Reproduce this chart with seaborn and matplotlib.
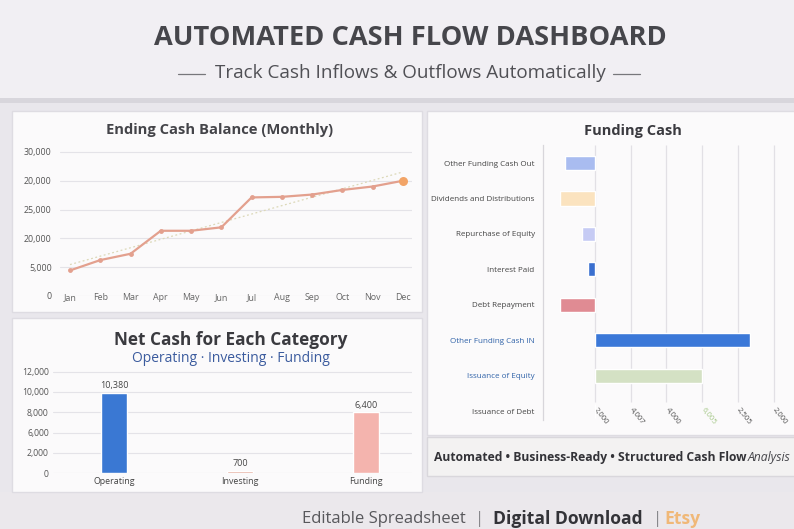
import numpy as np
import pandas as pd
import matplotlib
matplotlib.use('agg')
import matplotlib.pyplot as plt
from matplotlib.patches import Rectangle
from matplotlib.lines import Line2D
import seaborn as sns

# ending cash balance by month
months = ['Jan', 'Feb', 'Mar', 'Apr', 'May', 'Jun', 'Jul', 'Aug', 'Sep', 'Oct', 'Nov', 'Dec']
ending_cash = [4400, 6200, 7300, 11300, 11300, 11900, 17100, 17200, 17600, 18400, 19000, 20000]
balance_ticks = [0, 5000, 10000, 15000, 20000, 25000]
balance_tick_labels = ['0', '5,000', '20,000', '25,000', '20,000', '30,000']

# net cash per category: bar heights as drawn, labels as printed
net_categories = ['Operating', 'Investing', 'Funding']
net_heights = [7900, 270, 6000]
net_labels = ['10,380', '700', '6,400']
net_ticks = [0, 2000, 4000, 6000, 8000, 10000]
net_tick_labels = ['0', '2,000', '6,000', '8,000', '10,000', '12,000']

# funding cash items
funding_items = ['Other Funding Cash Out', 'Dividends and Distributions', 'Repurchase of Equity',
                 'Interest Paid', 'Debt Repayment', 'Other Funding Cash IN', 'Issuance of Equity',
                 'Issuance of Debt']
funding_values = [-840, -980, -370, -190, -980, 4340, 3000, 0]
funding_ticks = [0, 1000, 2000, 3000, 4000, 5000]
funding_tick_labels = ['2,000', '4,007', '4,000', '6,005', '2,505', '2,000']

# colours
net_colors = ['#3a78d3', '#e2a493', '#f4b4ae']
funding_colors = ['#a9bcf0', '#fbe3bf', '#c6cbf4', '#3a6fcf', '#e08b93', '#3b78d8', '#d4e1c4', '#d4e1c4']
funding_label_colors = ['#444'] * 5 + ['#2f62a8', '#2f62a8', '#444']
funding_tick_colors = ['#555', '#555', '#555', '#a6c88a', '#555', '#555']

sns.set_theme(style='white')
plt.rcParams['font.family'] = ['Open Sans', 'DejaVu Sans']

W, H = 794, 529
fig = plt.figure(figsize=(W / 100, H / 100), dpi=100, facecolor='#e9e7ec')


def box(x0, y0, x1, y1):
    # pixel box (top-left origin) -> figure fraction [l, b, w, h]
    return [x0 / W, 1 - y1 / H, (x1 - x0) / W, (y1 - y0) / H]


def rect(x0, y0, x1, y1, fc, ec='none', lw=0):
    l, b, w, h = box(x0, y0, x1, y1)
    fig.add_artist(Rectangle((l, b), w, h, transform=fig.transFigure,
                             facecolor=fc, edgecolor=ec, lw=lw, zorder=-5))


def ftext(x, y, s, **kw):
    fig.text(x / W, 1 - y / H, s, **kw)


# background and panels
rect(0, 0, 794, 98, '#f1eff3')
rect(0, 98, 794, 103, '#d8d6dc')
rect(0, 492, 794, 529, '#ebe8ec')
rect(12, 111, 422, 312, '#fbfafb', '#dedce2', 1)
rect(12, 318, 422, 492, '#fbfafb', '#dedce2', 1)
rect(427, 111, 800, 435, '#fbfafb', '#dedce2', 1)
rect(427, 437, 800, 476, '#f3f2f2', '#d9d7dc', 1)

# header
ftext(410, 38, 'AUTOMATED CASH FLOW DASHBOARD', ha='center', va='center',
      fontsize=19.6, fontweight='bold', color='#46464b')
ftext(410, 73, 'Track Cash Inflows & Outflows Automatically', ha='center', va='center',
      fontsize=13.6, color='#505055')
for x0, x1 in [(178, 205), (613, 640)]:
    fig.add_artist(Line2D([x0 / W, x1 / W], [1 - 73.5 / H] * 2, transform=fig.transFigure,
                          color='#77777b', lw=0.9))

# ending cash balance line chart
ax1 = fig.add_axes(box(60, 146.25, 412, 295.75))
ax1.set_facecolor('none')
ax1.set_xlim(-0.33, 11.3)
x = np.arange(len(months))
sns.regplot(x=x, y=ending_cash, scatter=False, ci=None, ax=ax1,
            line_kws=dict(color='#dcd8b8', lw=0.9, ls=(0, (1.5, 2))))
sns.lineplot(x=x, y=ending_cash, ax=ax1, color='#e3a08e', lw=1.6, marker='o',
             markersize=3.5, markeredgewidth=0)
ax1.scatter(x[-1], ending_cash[-1], s=42, color='#f2a467', zorder=5, linewidths=0)
ax1.set_xlim(-0.33, 11.3)
ax1.set_ylim(0, 26000)
ax1.set_xticks(x)
ax1.set_xticklabels(months)
ax1.set_yticks(balance_ticks)
ax1.set_yticklabels(balance_tick_labels)
ax1.yaxis.grid(True, color='#e4e3e8', lw=0.8)
ax1.xaxis.grid(False)
sns.despine(ax=ax1, left=True, bottom=True)
ax1.tick_params(axis='y', labelsize=6.4, labelcolor='#555', pad=6, length=0)
ax1.tick_params(axis='x', labelsize=6.4, labelcolor='#666', pad=-2, length=0)
ftext(220, 130, 'Ending Cash Balance (Monthly)', ha='center', va='center',
      fontsize=10.6, fontweight='bold', color='#444449')

# net cash bar chart
ax2 = fig.add_axes(box(53, 368.6, 412, 473.3))
ax2.set_facecolor('none')
df_net = pd.DataFrame({'category': net_categories, 'net': net_heights})
sns.barplot(data=df_net, x='category', y='net', hue='category', palette=net_colors,
            width=0.2, saturation=1, legend=False, ax=ax2)
for i, (h, lab) in enumerate(zip(net_heights, net_labels)):
    ax2.annotate(lab, (i, h), xytext=(0, 2), textcoords='offset points',
                 ha='center', va='bottom', fontsize=6.5, color='#444')
ax2.set_xlim(-0.484, 2.365)
ax2.set_ylim(0, 10300)
ax2.set_yticks(net_ticks)
ax2.set_yticklabels(net_tick_labels)
ax2.set_xlabel('')
ax2.set_ylabel('')
ax2.yaxis.grid(True, color='#e4e3e8', lw=0.8)
ax2.set_axisbelow(True)
sns.despine(ax=ax2, left=True, bottom=True)
ax2.tick_params(axis='y', labelsize=6.2, labelcolor='#555', pad=3, length=0)
ax2.tick_params(axis='x', labelsize=6.4, labelcolor='#444', pad=3, length=0)
ftext(231, 340, 'Net Cash for Each Category', ha='center', va='center',
      fontsize=12.4, fontweight='bold', color='#3a3a3f')
ftext(231, 358.5, 'Operating · Investing · Funding', ha='center', va='center',
      fontsize=10, color='#3b5b9e')

# funding cash horizontal bars
ax3 = fig.add_axes(box(543, 145.3, 790, 419.9))
ax3.set_facecolor('none')
df_fund = pd.DataFrame({'item': funding_items, 'value': funding_values})
sns.barplot(data=df_fund, y='item', x='value', hue='item', palette=funding_colors,
            orient='h', width=0.4, saturation=1, legend=False, ax=ax3)
ax3.set_xlim(-1456, 5462)
ax3.set_ylim(7.25, -0.5)
ax3.vlines(funding_ticks, -0.5, 6.75, color='#e2e0e5', lw=0.9, zorder=0)
ax3.set_xticks(funding_ticks)
ax3.set_xticklabels(funding_tick_labels, rotation=-52, ha='left', va='center',
                    rotation_mode='anchor')
for lab, c in zip(ax3.get_xticklabels(), funding_tick_colors):
    lab.set_color(c)
for lab, c in zip(ax3.get_yticklabels(), funding_label_colors):
    lab.set_color(c)
ax3.set_xlabel('')
ax3.set_ylabel('')
ax3.grid(False)
sns.despine(ax=ax3, left=False, bottom=True)
ax3.spines['left'].set_color('#d8d6db')
ax3.spines['left'].set_linewidth(0.9)
ax3.tick_params(axis='y', labelsize=5.8, pad=6, length=0)
ax3.tick_params(axis='x', labelsize=5.6, pad=-8, length=0)
ftext(633, 131.5, 'Funding Cash', ha='center', va='center',
      fontsize=10.5, fontweight='bold', color='#3a3a3f')

# banner and footer
ftext(434, 457, 'Automated • Business-Ready • Structured Cash Flow', ha='left', va='center',
      fontsize=8.7, fontweight='bold', color='#333338')
ftext(748, 457, 'Analysis', ha='left', va='center', fontsize=8.7, fontstyle='italic',
      color='#444449')
ftext(302, 519, 'Editable Spreadsheet', ha='left', va='center', fontsize=12, color='#58585c')
ftext(480, 519, '|', ha='center', va='center', fontsize=12, color='#88888c')
ftext(493, 519, 'Digital Download', ha='left', va='center', fontsize=12.6,
      fontweight='bold', color='#333338')
ftext(658, 519, '|', ha='center', va='center', fontsize=12, color='#88888c')
ftext(664, 519, 'Etsy', ha='left', va='center', fontsize=12.6, fontweight='bold', color='#f0b878')

fig.savefig('out.png', dpi=100, facecolor=fig.get_facecolor())
